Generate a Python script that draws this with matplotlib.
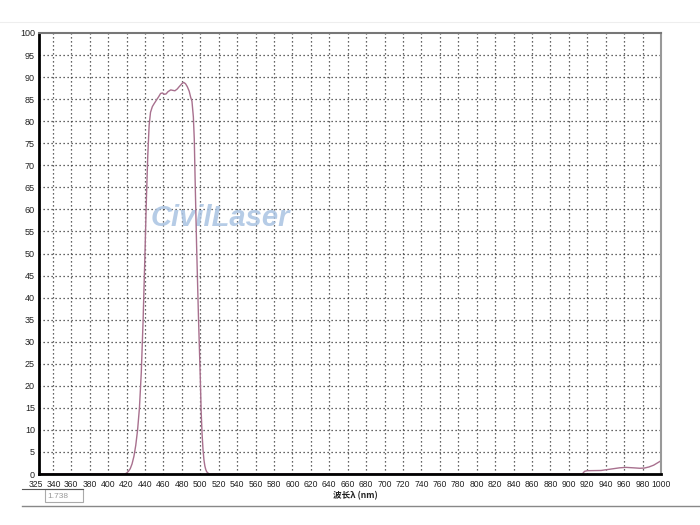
import matplotlib
matplotlib.use("Agg")
import matplotlib.pyplot as plt
from matplotlib.patches import Rectangle
from matplotlib.lines import Line2D
import matplotlib.transforms as mtransforms

wavelength = [325, 360, 400, 418, 420, 422, 424, 426, 428, 430, 432, 434, 436, 438,
              440, 441.5, 443, 444.5, 446, 448, 450, 452.5, 455, 457, 459, 461, 463,
              465, 468, 470, 472.5, 475, 477, 480, 482, 484, 486, 488, 489.5, 491,
              492.5, 493.5, 494.5, 496, 498, 500, 501, 502, 503, 504, 505, 506, 507,
              509, 510, 600, 700, 800, 900, 914, 915, 917, 920, 935, 945, 955, 962,
              970, 977, 982, 987, 992, 996, 1000]
transmission = [0, 0, 0, 0, 0.2, 0.6, 1.2, 2.3, 4.0, 6.5, 10, 15, 23, 35,
                50, 62, 72, 79, 82, 83.3, 84, 84.8, 85.6, 86.3, 86.4, 86.1, 86.2,
                86.7, 87.1, 87.0, 86.9, 87.3, 87.8, 88.5, 88.8, 88.5, 87.8, 86.8, 85.5, 84.5,
                81, 76, 66, 52, 36, 22, 14, 9, 5.5, 3.2, 1.8, 1.0, 0.5,
                0.1, 0, 0, 0, 0, 0, 0, 0.1, 0.6, 0.75, 0.8, 1.1, 1.4, 1.5,
                1.4, 1.3, 1.35, 1.6, 2.0, 2.5, 3.0]

x_ticks = [325] + list(range(340, 1001, 20))
y_ticks = list(range(0, 101, 5))
x_label = "波长λ (nm)"
watermark = "CivilLaser"
box_value = "1.738"

lab_font = ['Liberation Sans Narrow', 'Liberation Sans', 'DejaVu Sans']

fig = plt.figure(figsize=(7, 5.25), dpi=100)
ax = fig.add_axes([39/700, 1-474/525, (661-39)/700, (474-33)/525])

ax.plot(wavelength, transmission, color='#a8708e', lw=1.0, zorder=3)

ax.set_xlim(325, 1000)
ax.set_ylim(0, 100)
ax.set_xticks(x_ticks)
ax.set_yticks(y_ticks)
ax.set_xticklabels([str(t) for t in x_ticks], fontsize=6.2, family=lab_font, color='#222')
ax.set_yticklabels([str(t) for t in y_ticks], fontsize=6.5, family=lab_font, color='#222')
ax.tick_params(length=0)
ax.tick_params(axis='x', pad=4)
ax.tick_params(axis='y', pad=3)

# nudge the two crowded labels at the left end apart
xl = ax.get_xticklabels()
xl[0].set_transform(xl[0].get_transform() + mtransforms.ScaledTranslation(-3/100, 0, fig.dpi_scale_trans))
xl[1].set_transform(xl[1].get_transform() + mtransforms.ScaledTranslation(1.5/100, 0, fig.dpi_scale_trans))

for xv in x_ticks[1:-1]:
    ax.axvline(xv, color='#333333', lw=0.9, ls=(0, (1, 2.2)), zorder=1)
for yv in y_ticks[1:-1]:
    ax.axhline(yv, color='#333333', lw=0.9, ls=(0, (1, 2.2)), zorder=1)

ax.spines['left'].set_linewidth(2)
ax.spines['bottom'].set_linewidth(2)
ax.spines['left'].set_color('black')
ax.spines['bottom'].set_color('black')
ax.spines['top'].set_linewidth(1.5)
ax.spines['top'].set_color('#777777')
ax.spines['right'].set_linewidth(1.5)
ax.spines['right'].set_color('#999999')
for s in ax.spines.values():
    s.set_zorder(4)

ax.text(0.291, 0.58, watermark, transform=ax.transAxes, fontsize=21,
        fontweight='bold', fontstyle='italic', color='#a9c3e2', alpha=0.85,
        ha='center', va='center', family=['Liberation Sans', 'DejaVu Sans'], zorder=2)

fig.text(355/700, 1-496/525, x_label, fontsize=6.2, fontweight='bold',
         family=['Noto Sans CJK SC', 'DejaVu Sans'], ha='center', va='center', color='#222')

# box below axis
fig.add_artist(Rectangle((45/700, 1-502/525), 38/700, 13/525, transform=fig.transFigure,
                         fill=False, edgecolor='#aaaaaa', lw=0.8))
fig.text(47/700, 1-496/525, box_value, fontsize=6, color='#999999', family=lab_font,
         ha='left', va='center')
fig.add_artist(Line2D([22/700, 83/700], [1-489/525, 1-489/525], transform=fig.transFigure,
                      color='#555555', lw=0.8))
fig.add_artist(Line2D([22/700, 700/700], [1-506/525, 1-506/525], transform=fig.transFigure,
                      color='#888888', lw=1.0))
fig.add_artist(Line2D([0, 1], [1-22/525, 1-22/525], transform=fig.transFigure,
                      color='#eeeeee', lw=0.8))

fig.savefig('out.png', dpi=100)
